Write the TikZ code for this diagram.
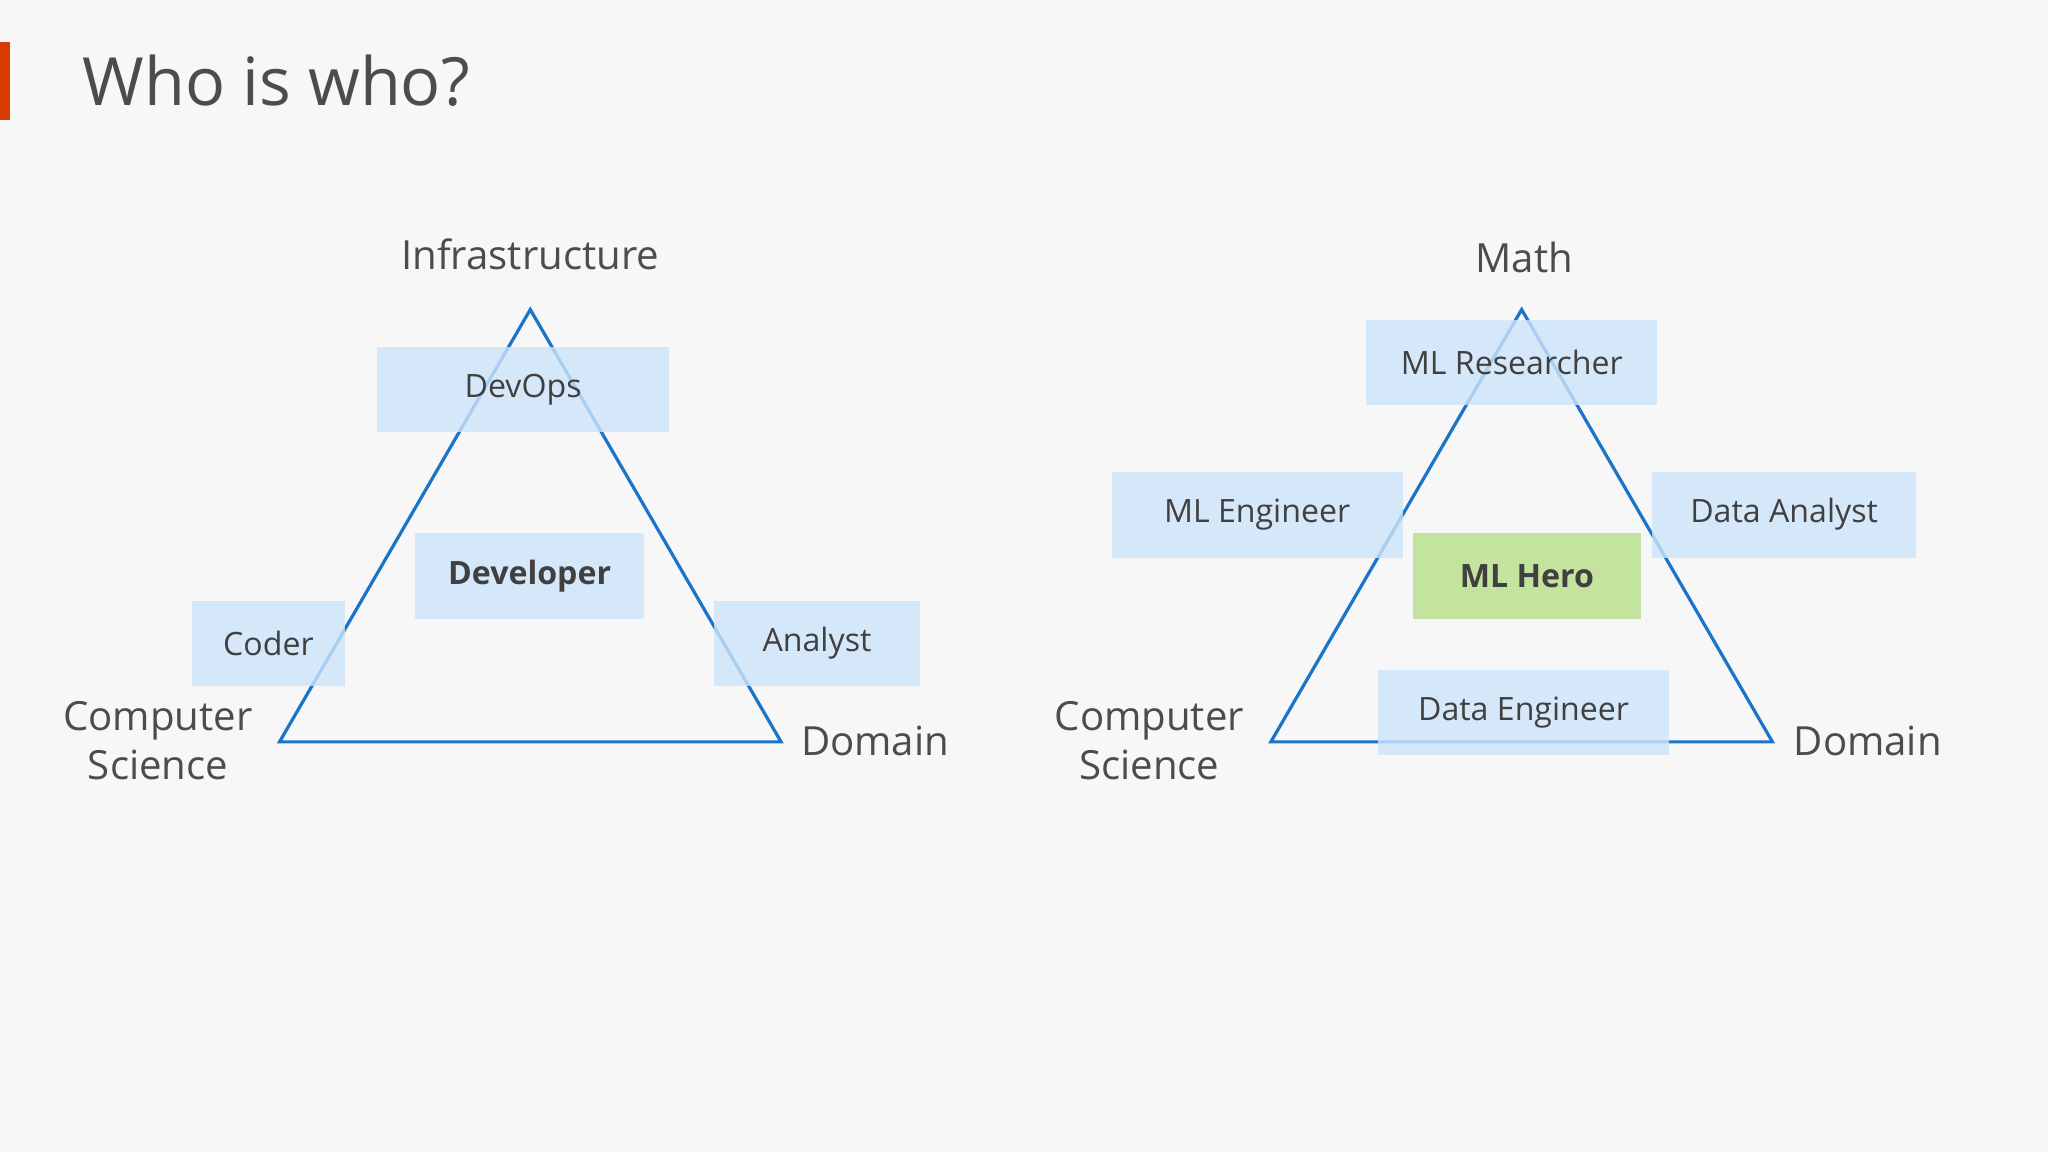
\documentclass[tikz,border=0pt]{standalone}
\usepackage{fontspec}
\setmainfont{Open Sans}
\definecolor{tricol}{HTML}{1C74C9}
\definecolor{boxcol}{HTML}{CDE5FA}
\definecolor{herocol}{HTML}{C4E39E}
\definecolor{barcol}{HTML}{D83B01}
\begin{document}
\begin{tikzpicture}[x={(0.02cm,0)},y={(0,-0.02cm)},
 tri/.style={draw=tricol, line width=1.4pt, line join=miter},
 role/.style={fill=boxcol, fill opacity=0.8, text opacity=1, inner sep=0pt, font=\fontsize{14}{16}\selectfont, text=black!75},
 hero/.style={fill=herocol, inner sep=0pt, font=\bfseries\fontsize{14}{16}\selectfont, text=black!75},
 lab/.style={font=\fontsize{17.5}{21.5}\selectfont, text=black!70, align=center}]
\fill[black!3] (0,0) rectangle (1568,882);
\useasboundingbox (0,0) rectangle (1568,882);
\fill[barcol] (0,32) rectangle (8,92);
\node[anchor=west, font=\fontsize{29}{34}\selectfont, text=black!70] (title) at (57,62) {Who is who?};
% left
\coordinate (A1) at (406,237); \coordinate (B1) at (214,568); \coordinate (C1) at (598,568);
\draw[tri] (A1) -- (B1) -- (C1) -- cycle;
\node[role, minimum width={223*0.02cm}, minimum height={65*0.02cm}] (devops) at (400.5,298.5) {DevOps};
\node[role, minimum width={175*0.02cm}, minimum height={66*0.02cm}, font=\bfseries\fontsize{14}{16}\selectfont] (dev) at (405.5,441) {Developer};
\node[role, minimum width={117*0.02cm}, minimum height={65*0.02cm}] (coder) at (205.5,492.5) {Coder};
\node[role, minimum width={157*0.02cm}, minimum height={65*0.02cm}] (analyst) at (625.5,492.5) {Analyst};
\node[lab] (infra) at (406,195) {Infrastructure};
\node[lab] (cs1) at (121,567) {Computer\\Science};
\node[lab] (dom1) at (670,567) {Domain};
% right
\coordinate (A2) at (1165,237); \coordinate (B2) at (973,568); \coordinate (C2) at (1357,568);
\draw[tri] (A2) -- (B2) -- (C2) -- cycle;
\node[role, minimum width={223*0.02cm}, minimum height={65*0.02cm}] (mlr) at (1157.5,277.5) {ML Researcher};
\node[role, minimum width={223*0.02cm}, minimum height={66*0.02cm}] (mle) at (962.5,394) {ML Engineer};
\node[role, minimum width={202*0.02cm}, minimum height={66*0.02cm}] (da) at (1366,394) {Data Analyst};
\node[hero, minimum width={174*0.02cm}, minimum height={66*0.02cm}] (hero) at (1169,441) {ML Hero};
\node[role, minimum width={223*0.02cm}, minimum height={65*0.02cm}] (de) at (1166.5,545.5) {Data Engineer};
\node[lab] (math) at (1167,197) {Math};
\node[lab] (cs2) at (880,567) {Computer\\Science};
\node[lab] (dom2) at (1430,567) {Domain};
\end{tikzpicture}
\end{document}
